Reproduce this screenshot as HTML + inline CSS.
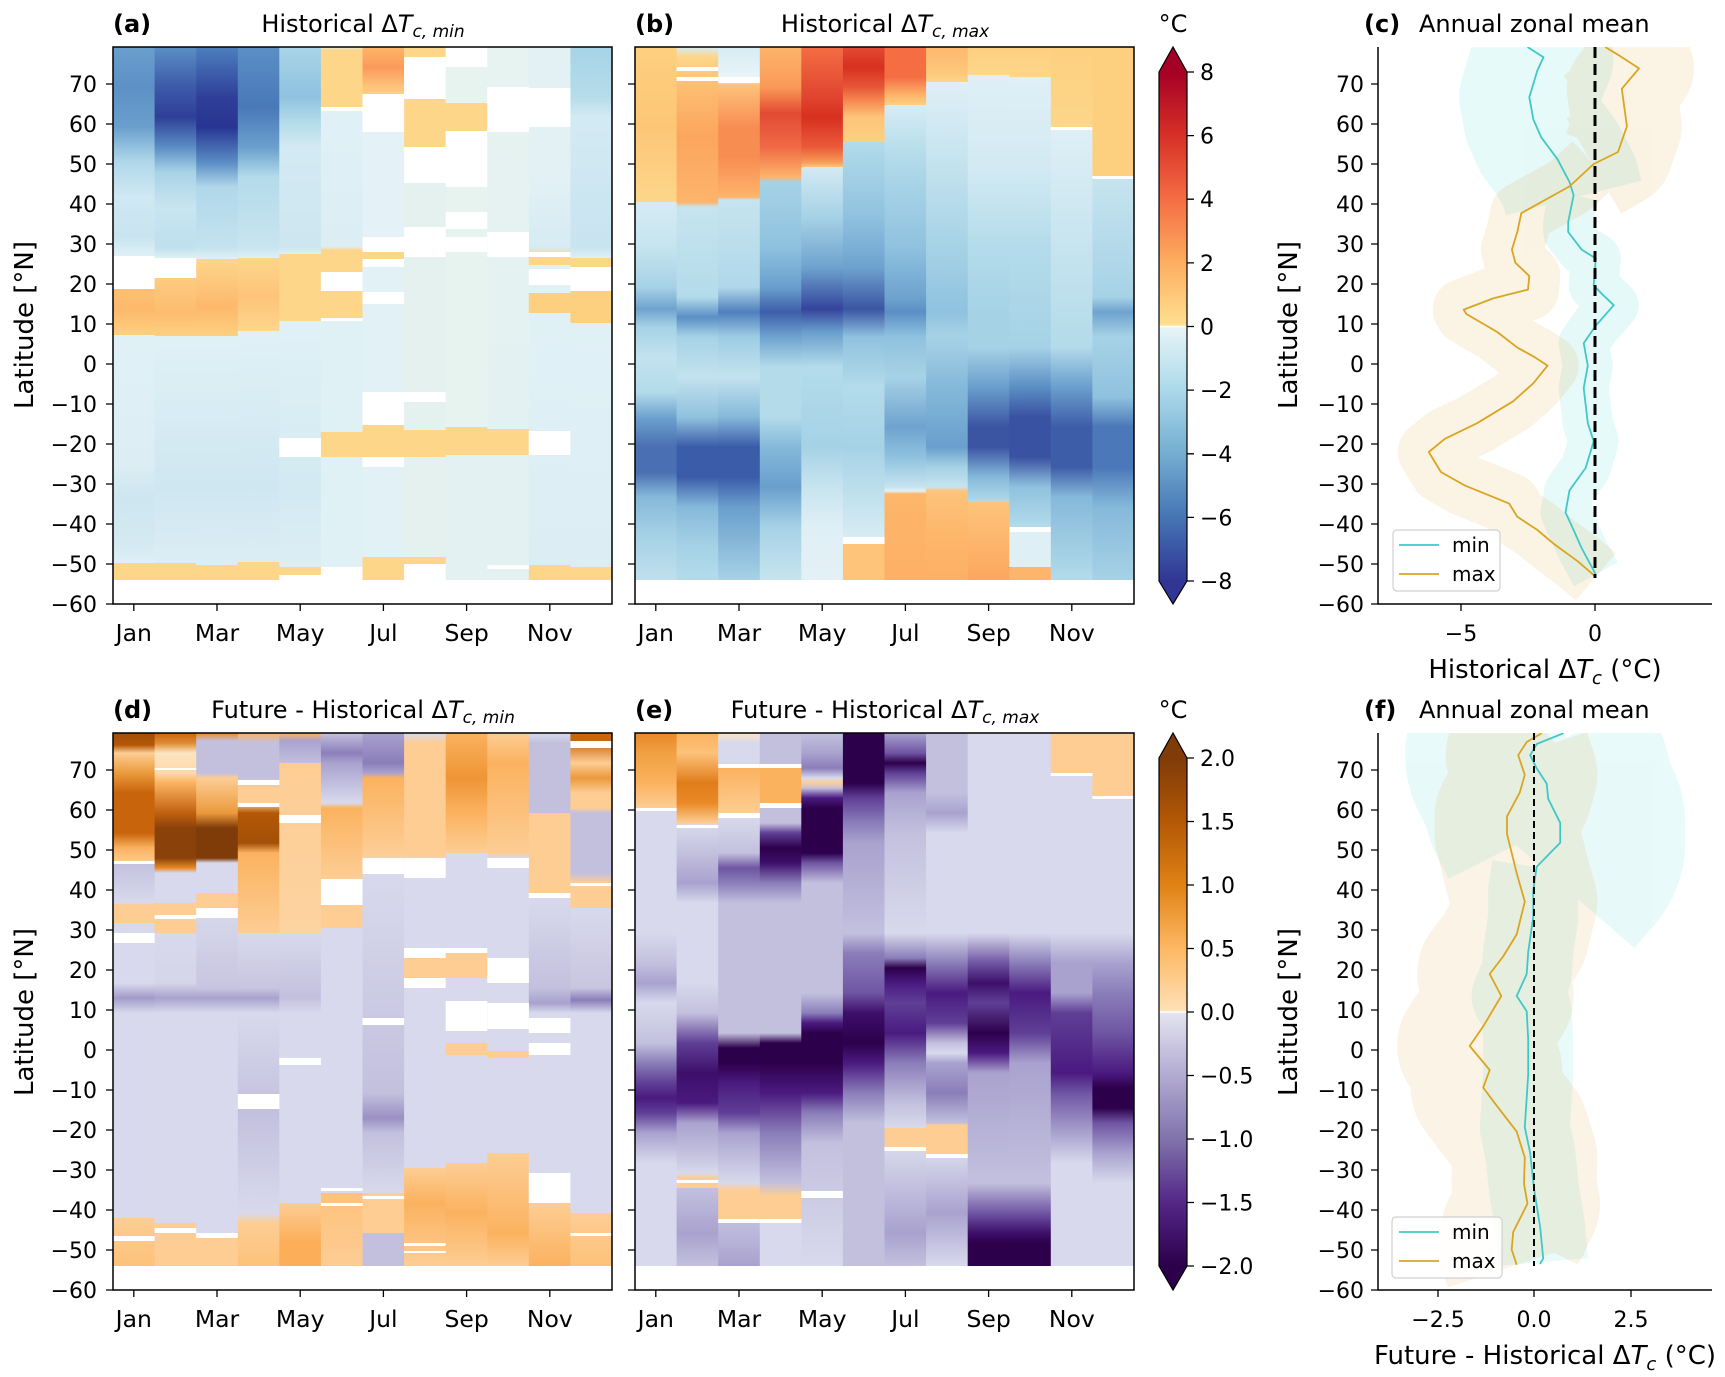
<!DOCTYPE html>
<html><head><meta charset="utf-8"><style>
html,body{margin:0;padding:0;background:#fff;}
svg{display:block;}
text{font-family:"DejaVu Sans","Liberation Sans",sans-serif;fill:#000;}
</style></head><body>
<svg width="1725" height="1377" viewBox="0 0 1725 1377" xmlns="http://www.w3.org/2000/svg">
<defs>
<clipPath id="clipc"><rect x="1378" y="47" width="334" height="557"/></clipPath>
<clipPath id="clipf"><rect x="1378" y="733" width="334" height="557"/></clipPath>
<!-- panel a -->
<linearGradient id="a1" gradientUnits="userSpaceOnUse" x1="0" y1="0" x2="0" y2="1000"><stop offset="0" stop-color="#6a9fcd"/><stop offset=".04" stop-color="#5d90c6"/><stop offset=".08" stop-color="#6a9fcd"/><stop offset=".115" stop-color="#b0d8ea"/><stop offset=".15" stop-color="#cfe8f2"/><stop offset=".19" stop-color="#c8e4f0"/><stop offset=".209" stop-color="#dff0f6"/><stop offset=".209" stop-color="#fdd07f"/><stop offset=".262" stop-color="#fdb86c"/><stop offset=".288" stop-color="#fdd07f"/><stop offset=".288" stop-color="#e0f1f6"/><stop offset=".42" stop-color="#dcedf4"/><stop offset=".45" stop-color="#cde6f0"/><stop offset=".50" stop-color="#d5eaf2"/><stop offset=".516" stop-color="#dff0f6"/><stop offset=".516" stop-color="#fdd68a"/><stop offset="1" stop-color="#fdd68a"/></linearGradient>
<linearGradient id="a2" gradientUnits="userSpaceOnUse" x1="0" y1="0" x2="0" y2="1000"><stop offset="0" stop-color="#5b8fc5"/><stop offset=".04" stop-color="#3d5aa8"/><stop offset=".07" stop-color="#2f3f98"/><stop offset=".10" stop-color="#5a8dc4"/><stop offset=".125" stop-color="#a8d3e7"/><stop offset=".16" stop-color="#c8e4f0"/><stop offset=".20" stop-color="#bfe0ee"/><stop offset=".211" stop-color="#dff0f6"/><stop offset=".211" stop-color="#fdd68a"/><stop offset=".265" stop-color="#fdbc6f"/><stop offset=".289" stop-color="#fdd07f"/><stop offset=".289" stop-color="#e0f1f6"/><stop offset=".44" stop-color="#cfe7f1"/><stop offset=".516" stop-color="#dcedf4"/><stop offset=".516" stop-color="#fdd68a"/></linearGradient>
<linearGradient id="a3" gradientUnits="userSpaceOnUse" x1="0" y1="0" x2="0" y2="1000"><stop offset="0" stop-color="#4d7fbf"/><stop offset=".05" stop-color="#2f3f98"/><stop offset=".08" stop-color="#283593"/><stop offset=".115" stop-color="#5a8dc4"/><stop offset=".14" stop-color="#b0d8ea"/><stop offset=".20" stop-color="#c3e2ef"/><stop offset=".212" stop-color="#dff0f6"/><stop offset=".212" stop-color="#fdd68a"/><stop offset=".26" stop-color="#fdb86c"/><stop offset=".289" stop-color="#fdd07f"/><stop offset=".289" stop-color="#e0f1f6"/><stop offset=".44" stop-color="#cfe7f1"/><stop offset=".518" stop-color="#dcedf4"/><stop offset=".518" stop-color="#fdd68a"/></linearGradient>
<linearGradient id="a4" gradientUnits="userSpaceOnUse" x1="0" y1="0" x2="0" y2="1000"><stop offset="0" stop-color="#5b8fc5"/><stop offset=".06" stop-color="#4a78b8"/><stop offset=".10" stop-color="#6a9fcd"/><stop offset=".13" stop-color="#b3dbea"/><stop offset=".20" stop-color="#c8e4f0"/><stop offset=".211" stop-color="#dff0f6"/><stop offset=".211" stop-color="#fdd68a"/><stop offset=".25" stop-color="#fdc47a"/><stop offset=".284" stop-color="#fdd68a"/><stop offset=".284" stop-color="#e0f1f6"/><stop offset=".44" stop-color="#cfe7f1"/><stop offset=".515" stop-color="#dcedf4"/><stop offset=".515" stop-color="#fdd68a"/></linearGradient>
<linearGradient id="a5" gradientUnits="userSpaceOnUse" x1="0" y1="0" x2="0" y2="1000"><stop offset="0" stop-color="#a9d4e8"/><stop offset=".05" stop-color="#8fc2df"/><stop offset=".075" stop-color="#b3dbea"/><stop offset=".10" stop-color="#d3eaf3"/><stop offset=".20" stop-color="#cde6f0"/><stop offset=".207" stop-color="#dff0f6"/><stop offset=".207" stop-color="#fdd68a"/><stop offset=".274" stop-color="#fdd68a"/><stop offset=".274" stop-color="#e0f1f6"/><stop offset=".44" stop-color="#d3eaf2"/><stop offset=".52" stop-color="#dcedf4"/><stop offset=".52" stop-color="#fdd68a"/><stop offset=".528" stop-color="#fdd68a"/><stop offset=".528" stop-color="#ffffff"/></linearGradient>
<linearGradient id="a6" gradientUnits="userSpaceOnUse" x1="0" y1="0" x2="0" y2="1000"><stop offset="0" stop-color="#e0f1f6"/><stop offset=".003" stop-color="#fdd68a"/><stop offset=".06" stop-color="#fdd68a"/><stop offset=".06" stop-color="#e0f1f6"/><stop offset=".2" stop-color="#dcedf4"/><stop offset=".203" stop-color="#fdd68a"/><stop offset=".271" stop-color="#fdd68a"/><stop offset=".271" stop-color="#e0f1f6"/><stop offset=".385" stop-color="#e0f1f6"/><stop offset=".385" stop-color="#fdd68a"/><stop offset=".41" stop-color="#fdd68a"/><stop offset=".41" stop-color="#e0f1f6"/><stop offset=".52" stop-color="#e0f1f6"/><stop offset=".52" stop-color="#ffffff"/></linearGradient>
<linearGradient id="a7" gradientUnits="userSpaceOnUse" x1="0" y1="0" x2="0" y2="1000"><stop offset="0" stop-color="#fdb66a"/><stop offset=".02" stop-color="#fb9a5a"/><stop offset=".04" stop-color="#fdc47a"/><stop offset=".047" stop-color="#fdd07f"/><stop offset=".047" stop-color="#e4f2f7"/><stop offset=".205" stop-color="#e4f2f7"/><stop offset=".205" stop-color="#fdd68a"/><stop offset=".212" stop-color="#fdd68a"/><stop offset=".212" stop-color="#e2f1f6"/><stop offset=".378" stop-color="#e2f1f6"/><stop offset=".378" stop-color="#fdd68a"/><stop offset=".41" stop-color="#fdd68a"/><stop offset=".41" stop-color="#e2f1f6"/><stop offset=".51" stop-color="#e2f1f6"/><stop offset=".51" stop-color="#fdd68a"/></linearGradient>
<linearGradient id="a8" gradientUnits="userSpaceOnUse" x1="0" y1="0" x2="0" y2="1000"><stop offset="0" stop-color="#fdd68a"/><stop offset=".01" stop-color="#fdd68a"/><stop offset=".01" stop-color="#e4f1ef"/><stop offset=".052" stop-color="#e4f1ef"/><stop offset=".052" stop-color="#fdd68a"/><stop offset=".10" stop-color="#fdd68a"/><stop offset=".10" stop-color="#e4f1ef"/><stop offset=".383" stop-color="#e4f1ef"/><stop offset=".383" stop-color="#fdd68a"/><stop offset=".41" stop-color="#fdd68a"/><stop offset=".41" stop-color="#e4f1ef"/><stop offset=".51" stop-color="#e4f1ef"/><stop offset=".51" stop-color="#fdd68a"/><stop offset=".517" stop-color="#fdd68a"/><stop offset=".517" stop-color="#ffffff"/></linearGradient>
<linearGradient id="a9" gradientUnits="userSpaceOnUse" x1="0" y1="0" x2="0" y2="1000"><stop offset="0" stop-color="#e6f3ef"/><stop offset=".056" stop-color="#e6f3ef"/><stop offset=".056" stop-color="#fdd68a"/><stop offset=".084" stop-color="#fdd68a"/><stop offset=".084" stop-color="#e6f3ef"/><stop offset=".38" stop-color="#e6f3ef"/><stop offset=".38" stop-color="#fdd68a"/><stop offset=".408" stop-color="#fdd68a"/><stop offset=".408" stop-color="#e3f1f2"/></linearGradient>
<linearGradient id="a10" gradientUnits="userSpaceOnUse" x1="0" y1="0" x2="0" y2="1000"><stop offset="0" stop-color="#e6f3f0"/><stop offset=".382" stop-color="#e3f1f2"/><stop offset=".382" stop-color="#fdd68a"/><stop offset=".408" stop-color="#fdd68a"/><stop offset=".408" stop-color="#e3f1f2"/></linearGradient>
<linearGradient id="a11" gradientUnits="userSpaceOnUse" x1="0" y1="0" x2="0" y2="1000"><stop offset="0" stop-color="#e3f1f5"/><stop offset=".127" stop-color="#e3f1f5"/><stop offset=".2" stop-color="#d6ebf3"/><stop offset=".21" stop-color="#fdd68a"/><stop offset=".218" stop-color="#fdd68a"/><stop offset=".218" stop-color="#e3f1f5"/><stop offset=".246" stop-color="#e3f1f5"/><stop offset=".246" stop-color="#fdd07f"/><stop offset=".266" stop-color="#fdd07f"/><stop offset=".266" stop-color="#e0f1f6"/><stop offset=".518" stop-color="#dcedf4"/><stop offset=".518" stop-color="#fdd68a"/></linearGradient>
<linearGradient id="a12" gradientUnits="userSpaceOnUse" x1="0" y1="0" x2="0" y2="1000"><stop offset="0" stop-color="#a6d4e6"/><stop offset=".05" stop-color="#b6dcea"/><stop offset=".07" stop-color="#d3eaf3"/><stop offset=".20" stop-color="#c8e4f0"/><stop offset=".211" stop-color="#dff0f6"/><stop offset=".211" stop-color="#fdd68a"/><stop offset=".22" stop-color="#fdd68a"/><stop offset=".22" stop-color="#ffffff"/><stop offset=".244" stop-color="#ffffff"/><stop offset=".244" stop-color="#fdd07f"/><stop offset=".276" stop-color="#fdd07f"/><stop offset=".276" stop-color="#e0f1f6"/><stop offset=".52" stop-color="#dcedf4"/><stop offset=".52" stop-color="#fdd68a"/></linearGradient>
<!-- panel b -->
<linearGradient id="b1" gradientUnits="userSpaceOnUse" x1="0" y1="0" x2="0" y2="1000"><stop offset="0" stop-color="#fdd07f"/><stop offset=".08" stop-color="#fdc676"/><stop offset=".155" stop-color="#fdd68a"/><stop offset=".155" stop-color="#d6ecf4"/><stop offset=".20" stop-color="#c6e4ef"/><stop offset=".24" stop-color="#a6d2e6"/><stop offset=".262" stop-color="#6fa3cf"/><stop offset=".28" stop-color="#a6d2e6"/><stop offset=".31" stop-color="#c3e2ef"/><stop offset=".345" stop-color="#b3dbea"/><stop offset=".372" stop-color="#6a9fcd"/><stop offset=".40" stop-color="#4a6fb2"/><stop offset=".425" stop-color="#4a6fb2"/><stop offset=".45" stop-color="#85b9da"/><stop offset=".49" stop-color="#a6d2e6"/><stop offset=".533" stop-color="#c0dfed"/></linearGradient>
<linearGradient id="b2" gradientUnits="userSpaceOnUse" x1="0" y1="0" x2="0" y2="1000"><stop offset="0" stop-color="#d6ecf4"/><stop offset=".01" stop-color="#fdd68a"/><stop offset=".04" stop-color="#fdbd72"/><stop offset=".09" stop-color="#fca55e"/><stop offset=".155" stop-color="#fdb46b"/><stop offset=".16" stop-color="#c6e4ef"/><stop offset=".25" stop-color="#b3dbea"/><stop offset=".27" stop-color="#5b8fc5"/><stop offset=".29" stop-color="#a6d2e6"/><stop offset=".33" stop-color="#c3e2ef"/><stop offset=".37" stop-color="#90c2de"/><stop offset=".40" stop-color="#3b5ca9"/><stop offset=".43" stop-color="#3b5ca9"/><stop offset=".46" stop-color="#85b9da"/><stop offset=".50" stop-color="#a6d2e6"/><stop offset=".533" stop-color="#b3dbea"/></linearGradient>
<linearGradient id="b3" gradientUnits="userSpaceOnUse" x1="0" y1="0" x2="0" y2="1000"><stop offset="0" stop-color="#d6ecf4"/><stop offset=".03" stop-color="#e8f4f8"/><stop offset=".038" stop-color="#fdc27a"/><stop offset=".08" stop-color="#f88d52"/><stop offset=".11" stop-color="#f88d52"/><stop offset=".15" stop-color="#fdb46b"/><stop offset=".153" stop-color="#c6e4ef"/><stop offset=".24" stop-color="#b0d8ea"/><stop offset=".265" stop-color="#4f7fbd"/><stop offset=".29" stop-color="#9dcde3"/><stop offset=".33" stop-color="#c3e2ef"/><stop offset=".37" stop-color="#85b9da"/><stop offset=".40" stop-color="#3b5ca9"/><stop offset=".43" stop-color="#3b5ca9"/><stop offset=".46" stop-color="#6a9fcd"/><stop offset=".533" stop-color="#a6d2e6"/></linearGradient>
<linearGradient id="b4" gradientUnits="userSpaceOnUse" x1="0" y1="0" x2="0" y2="1000"><stop offset="0" stop-color="#fdb46b"/><stop offset=".04" stop-color="#fa9a58"/><stop offset=".066" stop-color="#e34a33"/><stop offset=".10" stop-color="#ef6a45"/><stop offset=".13" stop-color="#fdb46b"/><stop offset=".135" stop-color="#a6d2e6"/><stop offset=".20" stop-color="#8fc2df"/><stop offset=".24" stop-color="#6a9fcd"/><stop offset=".265" stop-color="#3e5ea9"/><stop offset=".29" stop-color="#6fa3cf"/><stop offset=".32" stop-color="#b3dbea"/><stop offset=".37" stop-color="#b3dbea"/><stop offset=".40" stop-color="#85b9da"/><stop offset=".44" stop-color="#6a9fcd"/><stop offset=".48" stop-color="#a6d2e6"/><stop offset=".533" stop-color="#c6e4ef"/></linearGradient>
<linearGradient id="b5" gradientUnits="userSpaceOnUse" x1="0" y1="0" x2="0" y2="1000"><stop offset="0" stop-color="#f46d43"/><stop offset=".05" stop-color="#e04530"/><stop offset=".07" stop-color="#d7301f"/><stop offset=".10" stop-color="#ea5a3a"/><stop offset=".115" stop-color="#f79a55"/><stop offset=".12" stop-color="#fdc47a"/><stop offset=".12" stop-color="#d3eaf3"/><stop offset=".17" stop-color="#a6d2e6"/><stop offset=".22" stop-color="#6fa3cf"/><stop offset=".262" stop-color="#35449c"/><stop offset=".285" stop-color="#6a9fcd"/><stop offset=".32" stop-color="#b3dbea"/><stop offset=".40" stop-color="#a6d2e6"/><stop offset=".44" stop-color="#c6e4ef"/><stop offset=".48" stop-color="#dfeff6"/><stop offset=".533" stop-color="#e3f1f5"/></linearGradient>
<linearGradient id="b6" gradientUnits="userSpaceOnUse" x1="0" y1="0" x2="0" y2="1000"><stop offset="0" stop-color="#e34a33"/><stop offset=".02" stop-color="#d7301f"/><stop offset=".04" stop-color="#e65637"/><stop offset=".055" stop-color="#f88d52"/><stop offset=".07" stop-color="#fdc47a"/><stop offset=".095" stop-color="#fdd07f"/><stop offset=".095" stop-color="#b3dbea"/><stop offset=".17" stop-color="#8fc2df"/><stop offset=".22" stop-color="#6fa3cf"/><stop offset=".262" stop-color="#3b55a3"/><stop offset=".29" stop-color="#8fc2df"/><stop offset=".34" stop-color="#b3dbea"/><stop offset=".40" stop-color="#a6d2e6"/><stop offset=".46" stop-color="#c6e4ef"/><stop offset=".49" stop-color="#d6ecf4"/><stop offset=".49" stop-color="#ffffff"/><stop offset=".497" stop-color="#ffffff"/><stop offset=".497" stop-color="#fdc47a"/><stop offset=".533" stop-color="#fdc47a"/></linearGradient>
<linearGradient id="b7" gradientUnits="userSpaceOnUse" x1="0" y1="0" x2="0" y2="1000"><stop offset="0" stop-color="#f46d43"/><stop offset=".03" stop-color="#f46d43"/><stop offset=".048" stop-color="#fdb46b"/><stop offset=".058" stop-color="#fdd07f"/><stop offset=".058" stop-color="#d6ecf4"/><stop offset=".11" stop-color="#b3dbea"/><stop offset=".20" stop-color="#8fc2df"/><stop offset=".25" stop-color="#6fa3cf"/><stop offset=".265" stop-color="#5b8fc5"/><stop offset=".29" stop-color="#8fc2df"/><stop offset=".33" stop-color="#a6d2e6"/><stop offset=".38" stop-color="#6fa3cf"/><stop offset=".41" stop-color="#8fc2df"/><stop offset=".44" stop-color="#c6e4ef"/><stop offset=".444" stop-color="#e3f1f5"/><stop offset=".447" stop-color="#fdb66a"/><stop offset=".533" stop-color="#fdb066"/></linearGradient>
<linearGradient id="b8" gradientUnits="userSpaceOnUse" x1="0" y1="0" x2="0" y2="1000"><stop offset="0" stop-color="#fdb86c"/><stop offset=".025" stop-color="#fdc77a"/><stop offset=".035" stop-color="#fdd68a"/><stop offset=".035" stop-color="#dfeff6"/><stop offset=".11" stop-color="#c6e4ef"/><stop offset=".20" stop-color="#a6d2e6"/><stop offset=".265" stop-color="#8fc2df"/><stop offset=".29" stop-color="#a6d2e6"/><stop offset=".34" stop-color="#85b9da"/><stop offset=".40" stop-color="#6a9fcd"/><stop offset=".42" stop-color="#a6d2e6"/><stop offset=".44" stop-color="#c6e4ef"/><stop offset=".444" stop-color="#fdc47a"/><stop offset=".49" stop-color="#fdb66a"/><stop offset=".533" stop-color="#fdb066"/></linearGradient>
<linearGradient id="b9" gradientUnits="userSpaceOnUse" x1="0" y1="0" x2="0" y2="1000"><stop offset="0" stop-color="#fdd07f"/><stop offset=".028" stop-color="#fdd68a"/><stop offset=".028" stop-color="#dfeff6"/><stop offset=".12" stop-color="#d3eaf3"/><stop offset=".20" stop-color="#b3dbea"/><stop offset=".265" stop-color="#a6d2e6"/><stop offset=".30" stop-color="#a6d2e6"/><stop offset=".34" stop-color="#6a9fcd"/><stop offset=".38" stop-color="#3b55a3"/><stop offset=".40" stop-color="#3b55a3"/><stop offset=".43" stop-color="#85b9da"/><stop offset=".455" stop-color="#b3dbea"/><stop offset=".455" stop-color="#fdc47a"/><stop offset=".50" stop-color="#fdb36b"/><stop offset=".533" stop-color="#fda65e"/></linearGradient>
<linearGradient id="b10" gradientUnits="userSpaceOnUse" x1="0" y1="0" x2="0" y2="1000"><stop offset="0" stop-color="#fdd07f"/><stop offset=".03" stop-color="#fdd68a"/><stop offset=".03" stop-color="#dfeff6"/><stop offset=".12" stop-color="#d3eaf3"/><stop offset=".20" stop-color="#b3dbea"/><stop offset=".30" stop-color="#a6d2e6"/><stop offset=".34" stop-color="#5b8fc5"/><stop offset=".37" stop-color="#3a52a2"/><stop offset=".41" stop-color="#3a52a2"/><stop offset=".44" stop-color="#8fc2df"/><stop offset=".48" stop-color="#b3dbea"/><stop offset=".48" stop-color="#ffffff"/><stop offset=".485" stop-color="#ffffff"/><stop offset=".485" stop-color="#dfeff6"/><stop offset=".52" stop-color="#dfeff6"/><stop offset=".52" stop-color="#fdb46b"/><stop offset=".533" stop-color="#fdb46b"/></linearGradient>
<linearGradient id="b11" gradientUnits="userSpaceOnUse" x1="0" y1="0" x2="0" y2="1000"><stop offset="0" stop-color="#fdd07f"/><stop offset=".08" stop-color="#fdd68a"/><stop offset=".08" stop-color="#ffffff"/><stop offset=".083" stop-color="#ffffff"/><stop offset=".083" stop-color="#dfeff6"/><stop offset=".20" stop-color="#c6e4ef"/><stop offset=".30" stop-color="#b3dbea"/><stop offset=".34" stop-color="#6a9fcd"/><stop offset=".38" stop-color="#3e5da8"/><stop offset=".42" stop-color="#3e5da8"/><stop offset=".45" stop-color="#85b9da"/><stop offset=".533" stop-color="#b3dbea"/></linearGradient>
<linearGradient id="b12" gradientUnits="userSpaceOnUse" x1="0" y1="0" x2="0" y2="1000"><stop offset="0" stop-color="#fdd07f"/><stop offset=".129" stop-color="#fdd07f"/><stop offset=".129" stop-color="#ffffff"/><stop offset=".132" stop-color="#ffffff"/><stop offset=".132" stop-color="#c6e4ef"/><stop offset=".25" stop-color="#a6d2e6"/><stop offset=".265" stop-color="#6fa3cf"/><stop offset=".29" stop-color="#a6d2e6"/><stop offset=".35" stop-color="#8fc2df"/><stop offset=".38" stop-color="#4a78b8"/><stop offset=".42" stop-color="#4a78b8"/><stop offset=".46" stop-color="#85b9da"/><stop offset=".533" stop-color="#a6d2e6"/></linearGradient>
<!-- panel d -->
<linearGradient id="d1" gradientUnits="userSpaceOnUse" x1="0" y1="0" x2="0" y2="1000"><stop offset="0" stop-color="#a04d08"/><stop offset=".012" stop-color="#b35806"/><stop offset=".02" stop-color="#fdcd94"/><stop offset=".04" stop-color="#eb9a3c"/><stop offset=".06" stop-color="#c8640c"/><stop offset=".10" stop-color="#c8640c"/><stop offset=".115" stop-color="#fbb25f"/><stop offset=".13" stop-color="#fdcd94"/><stop offset=".13" stop-color="#c3c0de"/><stop offset=".17" stop-color="#d8d9ec"/><stop offset=".172" stop-color="#fdcd94"/><stop offset=".19" stop-color="#fdcd94"/><stop offset=".19" stop-color="#d8d9ec"/><stop offset=".25" stop-color="#d8d9ec"/><stop offset=".265" stop-color="#a39bca"/><stop offset=".28" stop-color="#d8d9ec"/><stop offset=".485" stop-color="#d8d9ec"/><stop offset=".485" stop-color="#fdcd94"/><stop offset=".533" stop-color="#fdc27a"/></linearGradient>
<linearGradient id="d2" gradientUnits="userSpaceOnUse" x1="0" y1="0" x2="0" y2="1000"><stop offset="0" stop-color="#c9660d"/><stop offset=".01" stop-color="#e08a30"/><stop offset=".02" stop-color="#fee4c2"/><stop offset=".04" stop-color="#fdd9aa"/><stop offset=".05" stop-color="#fbb25f"/><stop offset=".08" stop-color="#c06010"/><stop offset=".095" stop-color="#8a420a"/><stop offset=".125" stop-color="#8a420a"/><stop offset=".135" stop-color="#e98a26"/><stop offset=".14" stop-color="#d8d9ec"/><stop offset=".17" stop-color="#d8d9ec"/><stop offset=".17" stop-color="#fdcd94"/><stop offset=".20" stop-color="#fdcd94"/><stop offset=".20" stop-color="#d8d9ec"/><stop offset=".25" stop-color="#d5d5ea"/><stop offset=".265" stop-color="#a9a2cf"/><stop offset=".28" stop-color="#d8d9ec"/><stop offset=".49" stop-color="#d8d9ec"/><stop offset=".49" stop-color="#fdcd94"/><stop offset=".533" stop-color="#fdcd94"/></linearGradient>
<linearGradient id="d3" gradientUnits="userSpaceOnUse" x1="0" y1="0" x2="0" y2="1000"><stop offset="0" stop-color="#e98a26"/><stop offset=".008" stop-color="#c3c0de"/><stop offset=".04" stop-color="#c3c0de"/><stop offset=".045" stop-color="#fdcd94"/><stop offset=".08" stop-color="#eb9a3c"/><stop offset=".095" stop-color="#7f3b08"/><stop offset=".125" stop-color="#7f3b08"/><stop offset=".13" stop-color="#d8d9ec"/><stop offset=".16" stop-color="#d8d9ec"/><stop offset=".16" stop-color="#fdcd94"/><stop offset=".175" stop-color="#fdcd94"/><stop offset=".175" stop-color="#d8d9ec"/><stop offset=".255" stop-color="#c8c5e0"/><stop offset=".265" stop-color="#a9a2cf"/><stop offset=".28" stop-color="#d8d9ec"/><stop offset=".50" stop-color="#d8d9ec"/><stop offset=".50" stop-color="#fdcd94"/><stop offset=".533" stop-color="#fdcd94"/></linearGradient>
<linearGradient id="d4" gradientUnits="userSpaceOnUse" x1="0" y1="0" x2="0" y2="1000"><stop offset="0" stop-color="#fbb25f"/><stop offset=".01" stop-color="#c3c0de"/><stop offset=".045" stop-color="#c3c0de"/><stop offset=".055" stop-color="#fdcd94"/><stop offset=".07" stop-color="#fdcd94"/><stop offset=".08" stop-color="#b35806"/><stop offset=".11" stop-color="#a45008"/><stop offset=".12" stop-color="#fbb25f"/><stop offset=".20" stop-color="#fdcd94"/><stop offset=".20" stop-color="#d8d9ec"/><stop offset=".255" stop-color="#c8c5e0"/><stop offset=".265" stop-color="#a9a2cf"/><stop offset=".28" stop-color="#d8d9ec"/><stop offset=".38" stop-color="#c3c0de"/><stop offset=".48" stop-color="#d8d9ec"/><stop offset=".49" stop-color="#fdcd94"/><stop offset=".533" stop-color="#fdc27a"/></linearGradient>
<linearGradient id="d5" gradientUnits="userSpaceOnUse" x1="0" y1="0" x2="0" y2="1000"><stop offset="0" stop-color="#fbb25f"/><stop offset=".008" stop-color="#a9a2cf"/><stop offset=".03" stop-color="#c3c0de"/><stop offset=".03" stop-color="#fdcd94"/><stop offset=".2" stop-color="#fdd3a0"/><stop offset=".2" stop-color="#d8d9ec"/><stop offset=".265" stop-color="#c3c0de"/><stop offset=".28" stop-color="#d8d9ec"/><stop offset=".47" stop-color="#d8d9ec"/><stop offset=".47" stop-color="#fdcd94"/><stop offset=".51" stop-color="#fcae58"/><stop offset=".533" stop-color="#fcae58"/></linearGradient>
<linearGradient id="d6" gradientUnits="userSpaceOnUse" x1="0" y1="0" x2="0" y2="1000"><stop offset="0" stop-color="#c3c0de"/><stop offset=".02" stop-color="#8b7fba"/><stop offset=".03" stop-color="#a9a2cf"/><stop offset=".07" stop-color="#d8d9ec"/><stop offset=".075" stop-color="#fbb25f"/><stop offset=".145" stop-color="#fdcd94"/><stop offset=".195" stop-color="#fdcd94"/><stop offset=".195" stop-color="#d8d9ec"/><stop offset=".46" stop-color="#d8d9ec"/><stop offset=".46" stop-color="#fdc27a"/><stop offset=".533" stop-color="#fdcd94"/></linearGradient>
<linearGradient id="d7" gradientUnits="userSpaceOnUse" x1="0" y1="0" x2="0" y2="1000"><stop offset="0" stop-color="#a9a2cf"/><stop offset=".03" stop-color="#8a7eb9"/><stop offset=".04" stop-color="#a9a2cf"/><stop offset=".045" stop-color="#fbb25f"/><stop offset=".12" stop-color="#fdcd94"/><stop offset=".14" stop-color="#d8d9ec"/><stop offset=".36" stop-color="#c3c0de"/><stop offset=".385" stop-color="#9a90c4"/><stop offset=".40" stop-color="#c3c0de"/><stop offset=".46" stop-color="#d8d9ec"/><stop offset=".46" stop-color="#fdcd94"/><stop offset=".50" stop-color="#fdcd94"/><stop offset=".50" stop-color="#c3c0de"/><stop offset=".533" stop-color="#c3c0de"/></linearGradient>
<linearGradient id="d8" gradientUnits="userSpaceOnUse" x1="0" y1="0" x2="0" y2="1000"><stop offset="0" stop-color="#d8d9ec"/><stop offset=".01" stop-color="#fdcd94"/><stop offset=".12" stop-color="#fdcd94"/><stop offset=".145" stop-color="#d8d9ec"/><stop offset=".215" stop-color="#d8d9ec"/><stop offset=".225" stop-color="#fdcd94"/><stop offset=".245" stop-color="#fdcd94"/><stop offset=".255" stop-color="#d8d9ec"/><stop offset=".435" stop-color="#d8d9ec"/><stop offset=".435" stop-color="#fdcd94"/><stop offset=".47" stop-color="#fbb25f"/><stop offset=".533" stop-color="#fdcd94"/></linearGradient>
<linearGradient id="d9" gradientUnits="userSpaceOnUse" x1="0" y1="0" x2="0" y2="1000"><stop offset="0" stop-color="#fbb25f"/><stop offset=".045" stop-color="#ee9535"/><stop offset=".08" stop-color="#fbb25f"/><stop offset=".12" stop-color="#fdcd94"/><stop offset=".12" stop-color="#d8d9ec"/><stop offset=".215" stop-color="#d8d9ec"/><stop offset=".22" stop-color="#fdcd94"/><stop offset=".245" stop-color="#fdcd94"/><stop offset=".245" stop-color="#d8d9ec"/><stop offset=".31" stop-color="#d8d9ec"/><stop offset=".31" stop-color="#fdcd94"/><stop offset=".322" stop-color="#fdcd94"/><stop offset=".322" stop-color="#d8d9ec"/><stop offset=".43" stop-color="#d8d9ec"/><stop offset=".43" stop-color="#fdcd94"/><stop offset=".48" stop-color="#fbb25f"/><stop offset=".533" stop-color="#fdcd94"/></linearGradient>
<linearGradient id="d10" gradientUnits="userSpaceOnUse" x1="0" y1="0" x2="0" y2="1000"><stop offset="0" stop-color="#fdcd94"/><stop offset=".03" stop-color="#fbb25f"/><stop offset=".12" stop-color="#fdcd94"/><stop offset=".125" stop-color="#d8d9ec"/><stop offset=".318" stop-color="#d8d9ec"/><stop offset=".318" stop-color="#fdcd94"/><stop offset=".325" stop-color="#fdcd94"/><stop offset=".325" stop-color="#d8d9ec"/><stop offset=".42" stop-color="#d8d9ec"/><stop offset=".42" stop-color="#fdcd94"/><stop offset=".50" stop-color="#fbb25f"/><stop offset=".533" stop-color="#fdcd94"/></linearGradient>
<linearGradient id="d11" gradientUnits="userSpaceOnUse" x1="0" y1="0" x2="0" y2="1000"><stop offset="0" stop-color="#d8d9ec"/><stop offset=".01" stop-color="#c3c0de"/><stop offset=".08" stop-color="#c3c0de"/><stop offset=".08" stop-color="#fdcd94"/><stop offset=".16" stop-color="#fdcd94"/><stop offset=".165" stop-color="#d8d9ec"/><stop offset=".255" stop-color="#c3c0de"/><stop offset=".27" stop-color="#a9a2cf"/><stop offset=".28" stop-color="#d8d9ec"/><stop offset=".47" stop-color="#d8d9ec"/><stop offset=".47" stop-color="#fdcd94"/><stop offset=".533" stop-color="#fbb25f"/></linearGradient>
<linearGradient id="d12" gradientUnits="userSpaceOnUse" x1="0" y1="0" x2="0" y2="1000"><stop offset="0" stop-color="#c9660d"/><stop offset=".008" stop-color="#c9660d"/><stop offset=".03" stop-color="#fdcd94"/><stop offset=".045" stop-color="#eb9a3c"/><stop offset=".06" stop-color="#fdcd94"/><stop offset=".075" stop-color="#fdcd94"/><stop offset=".08" stop-color="#c3c0de"/><stop offset=".14" stop-color="#c3c0de"/><stop offset=".15" stop-color="#fdcd94"/><stop offset=".175" stop-color="#fdcd94"/><stop offset=".175" stop-color="#d8d9ec"/><stop offset=".255" stop-color="#c8c5e0"/><stop offset=".267" stop-color="#8a7eb9"/><stop offset=".28" stop-color="#d8d9ec"/><stop offset=".48" stop-color="#d8d9ec"/><stop offset=".48" stop-color="#fdcd94"/><stop offset=".533" stop-color="#fdc27a"/></linearGradient>
<!-- panel e -->
<linearGradient id="e1" gradientUnits="userSpaceOnUse" x1="0" y1="0" x2="0" y2="1000"><stop offset="0" stop-color="#e9882a"/><stop offset=".02" stop-color="#f0a040"/><stop offset=".05" stop-color="#fbb25f"/><stop offset=".075" stop-color="#fdcd94"/><stop offset=".075" stop-color="#d8d9ec"/><stop offset=".20" stop-color="#d8d9ec"/><stop offset=".23" stop-color="#c3c0de"/><stop offset=".25" stop-color="#a9a2cf"/><stop offset=".27" stop-color="#d8d9ec"/><stop offset=".31" stop-color="#c3c0de"/><stop offset=".33" stop-color="#8a7eb9"/><stop offset=".35" stop-color="#5f3f96"/><stop offset=".365" stop-color="#4a1a80"/><stop offset=".38" stop-color="#5f3f96"/><stop offset=".40" stop-color="#a9a2cf"/><stop offset=".43" stop-color="#d8d9ec"/><stop offset=".533" stop-color="#d8d9ec"/></linearGradient>
<linearGradient id="e2" gradientUnits="userSpaceOnUse" x1="0" y1="0" x2="0" y2="1000"><stop offset="0" stop-color="#fbb25f"/><stop offset=".02" stop-color="#fdc27a"/><stop offset=".05" stop-color="#e07d1a"/><stop offset=".07" stop-color="#e98a26"/><stop offset=".09" stop-color="#fdcd94"/><stop offset=".092" stop-color="#d8d9ec"/><stop offset=".12" stop-color="#c3c0de"/><stop offset=".15" stop-color="#a9a2cf"/><stop offset=".17" stop-color="#d8d9ec"/><stop offset=".25" stop-color="#d8d9ec"/><stop offset=".28" stop-color="#c3c0de"/><stop offset=".31" stop-color="#5f3f96"/><stop offset=".34" stop-color="#3d0f6a"/><stop offset=".37" stop-color="#4a1a80"/><stop offset=".39" stop-color="#a9a2cf"/><stop offset=".42" stop-color="#c3c0de"/><stop offset=".44" stop-color="#d8d9ec"/><stop offset=".445" stop-color="#fdcd94"/><stop offset=".455" stop-color="#fdcd94"/><stop offset=".455" stop-color="#c3c0de"/><stop offset=".50" stop-color="#a9a2cf"/><stop offset=".533" stop-color="#c3c0de"/></linearGradient>
<linearGradient id="e3" gradientUnits="userSpaceOnUse" x1="0" y1="0" x2="0" y2="1000"><stop offset="0" stop-color="#fee4c2"/><stop offset=".01" stop-color="#d8d9ec"/><stop offset=".03" stop-color="#d8d9ec"/><stop offset=".035" stop-color="#fbb25f"/><stop offset=".08" stop-color="#fdcd94"/><stop offset=".085" stop-color="#d8d9ec"/><stop offset=".12" stop-color="#c3c0de"/><stop offset=".135" stop-color="#6f55a3"/><stop offset=".15" stop-color="#8a7eb9"/><stop offset=".17" stop-color="#c3c0de"/><stop offset=".30" stop-color="#c3c0de"/><stop offset=".315" stop-color="#2d004b"/><stop offset=".33" stop-color="#2d004b"/><stop offset=".35" stop-color="#4a1a80"/><stop offset=".38" stop-color="#5f3f96"/><stop offset=".40" stop-color="#a9a2cf"/><stop offset=".45" stop-color="#d8d9ec"/><stop offset=".457" stop-color="#fdcd94"/><stop offset=".486" stop-color="#fdcd94"/><stop offset=".486" stop-color="#c3c0de"/><stop offset=".533" stop-color="#a9a2cf"/></linearGradient>
<linearGradient id="e4" gradientUnits="userSpaceOnUse" x1="0" y1="0" x2="0" y2="1000"><stop offset="0" stop-color="#c3c0de"/><stop offset=".03" stop-color="#c3c0de"/><stop offset=".035" stop-color="#fbb25f"/><stop offset=".07" stop-color="#fbb25f"/><stop offset=".075" stop-color="#c3c0de"/><stop offset=".09" stop-color="#c3c0de"/><stop offset=".10" stop-color="#5f3f96"/><stop offset=".115" stop-color="#2d004b"/><stop offset=".13" stop-color="#3d0f6a"/><stop offset=".15" stop-color="#8a7eb9"/><stop offset=".17" stop-color="#c3c0de"/><stop offset=".30" stop-color="#c3c0de"/><stop offset=".31" stop-color="#2d004b"/><stop offset=".33" stop-color="#2d004b"/><stop offset=".36" stop-color="#4a1a80"/><stop offset=".40" stop-color="#8a7eb9"/><stop offset=".45" stop-color="#c3c0de"/><stop offset=".463" stop-color="#fdcd94"/><stop offset=".488" stop-color="#fdcd94"/><stop offset=".488" stop-color="#d8d9ec"/><stop offset=".533" stop-color="#d8d9ec"/></linearGradient>
<linearGradient id="e5" gradientUnits="userSpaceOnUse" x1="0" y1="0" x2="0" y2="1000"><stop offset="0" stop-color="#c3c0de"/><stop offset=".02" stop-color="#a9a2cf"/><stop offset=".035" stop-color="#8a7eb9"/><stop offset=".045" stop-color="#d8d9ec"/><stop offset=".05" stop-color="#fdcd94"/><stop offset=".055" stop-color="#c3c0de"/><stop offset=".065" stop-color="#4a1a80"/><stop offset=".075" stop-color="#2d004b"/><stop offset=".12" stop-color="#2d004b"/><stop offset=".13" stop-color="#6f55a3"/><stop offset=".15" stop-color="#c3c0de"/><stop offset=".26" stop-color="#c3c0de"/><stop offset=".28" stop-color="#8a7eb9"/><stop offset=".29" stop-color="#4a1a80"/><stop offset=".30" stop-color="#2d004b"/><stop offset=".33" stop-color="#2d004b"/><stop offset=".36" stop-color="#4a1a80"/><stop offset=".38" stop-color="#8a7eb9"/><stop offset=".41" stop-color="#c3c0de"/><stop offset=".533" stop-color="#d8d9ec"/></linearGradient>
<linearGradient id="e6" gradientUnits="userSpaceOnUse" x1="0" y1="0" x2="0" y2="1000"><stop offset="0" stop-color="#2d004b"/><stop offset=".05" stop-color="#2d004b"/><stop offset=".065" stop-color="#5f3f96"/><stop offset=".09" stop-color="#8a7eb9"/><stop offset=".11" stop-color="#a9a2cf"/><stop offset=".20" stop-color="#c3c0de"/><stop offset=".22" stop-color="#8a7eb9"/><stop offset=".26" stop-color="#6f55a3"/><stop offset=".28" stop-color="#3d0f6a"/><stop offset=".31" stop-color="#2d004b"/><stop offset=".33" stop-color="#4a1a80"/><stop offset=".36" stop-color="#8a7eb9"/><stop offset=".39" stop-color="#c3c0de"/><stop offset=".533" stop-color="#c3c0de"/></linearGradient>
<linearGradient id="e7" gradientUnits="userSpaceOnUse" x1="0" y1="0" x2="0" y2="1000"><stop offset="0" stop-color="#a9a2cf"/><stop offset=".02" stop-color="#6f55a3"/><stop offset=".03" stop-color="#2d004b"/><stop offset=".04" stop-color="#5f3f96"/><stop offset=".06" stop-color="#a9a2cf"/><stop offset=".10" stop-color="#c3c0de"/><stop offset=".20" stop-color="#d8d9ec"/><stop offset=".225" stop-color="#8a7eb9"/><stop offset=".235" stop-color="#2d004b"/><stop offset=".25" stop-color="#4a1a80"/><stop offset=".27" stop-color="#5f3f96"/><stop offset=".30" stop-color="#4a1a80"/><stop offset=".33" stop-color="#8a7eb9"/><stop offset=".37" stop-color="#c3c0de"/><stop offset=".395" stop-color="#d8d9ec"/><stop offset=".395" stop-color="#fdcd94"/><stop offset=".414" stop-color="#fdcd94"/><stop offset=".414" stop-color="#d8d9ec"/><stop offset=".50" stop-color="#a9a2cf"/><stop offset=".533" stop-color="#c3c0de"/></linearGradient>
<linearGradient id="e8" gradientUnits="userSpaceOnUse" x1="0" y1="0" x2="0" y2="1000"><stop offset="0" stop-color="#c3c0de"/><stop offset=".06" stop-color="#c3c0de"/><stop offset=".08" stop-color="#a9a2cf"/><stop offset=".10" stop-color="#d8d9ec"/><stop offset=".20" stop-color="#d8d9ec"/><stop offset=".23" stop-color="#8a7eb9"/><stop offset=".26" stop-color="#4a1a80"/><stop offset=".29" stop-color="#5f3f96"/><stop offset=".31" stop-color="#c3c0de"/><stop offset=".32" stop-color="#d8d9ec"/><stop offset=".33" stop-color="#a9a2cf"/><stop offset=".36" stop-color="#8a7eb9"/><stop offset=".39" stop-color="#c3c0de"/><stop offset=".392" stop-color="#fdcd94"/><stop offset=".421" stop-color="#fdcd94"/><stop offset=".421" stop-color="#d8d9ec"/><stop offset=".48" stop-color="#a9a2cf"/><stop offset=".533" stop-color="#d8d9ec"/></linearGradient>
<linearGradient id="e9" gradientUnits="userSpaceOnUse" x1="0" y1="0" x2="0" y2="1000"><stop offset="0" stop-color="#d8d9ec"/><stop offset=".20" stop-color="#d8d9ec"/><stop offset=".23" stop-color="#6f55a3"/><stop offset=".25" stop-color="#3d0f6a"/><stop offset=".27" stop-color="#5f3f96"/><stop offset=".30" stop-color="#2d004b"/><stop offset=".32" stop-color="#4a1a80"/><stop offset=".34" stop-color="#a9a2cf"/><stop offset=".45" stop-color="#c3c0de"/><stop offset=".48" stop-color="#6f55a3"/><stop offset=".50" stop-color="#3d0f6a"/><stop offset=".51" stop-color="#2d004b"/><stop offset=".533" stop-color="#2d004b"/></linearGradient>
<linearGradient id="e10" gradientUnits="userSpaceOnUse" x1="0" y1="0" x2="0" y2="1000"><stop offset="0" stop-color="#d8d9ec"/><stop offset=".20" stop-color="#d8d9ec"/><stop offset=".23" stop-color="#8a7eb9"/><stop offset=".26" stop-color="#4a1a80"/><stop offset=".30" stop-color="#5f3f96"/><stop offset=".33" stop-color="#a9a2cf"/><stop offset=".45" stop-color="#c3c0de"/><stop offset=".48" stop-color="#6f55a3"/><stop offset=".50" stop-color="#3d0f6a"/><stop offset=".51" stop-color="#2d004b"/><stop offset=".533" stop-color="#2d004b"/></linearGradient>
<linearGradient id="e11" gradientUnits="userSpaceOnUse" x1="0" y1="0" x2="0" y2="1000"><stop offset="0" stop-color="#fdcd94"/><stop offset=".04" stop-color="#fdcd94"/><stop offset=".04" stop-color="#d8d9ec"/><stop offset=".20" stop-color="#d8d9ec"/><stop offset=".23" stop-color="#a9a2cf"/><stop offset=".26" stop-color="#a9a2cf"/><stop offset=".28" stop-color="#5f3f96"/><stop offset=".34" stop-color="#4a1a80"/><stop offset=".36" stop-color="#6f55a3"/><stop offset=".40" stop-color="#a9a2cf"/><stop offset=".43" stop-color="#d8d9ec"/><stop offset=".533" stop-color="#d8d9ec"/></linearGradient>
<linearGradient id="e12" gradientUnits="userSpaceOnUse" x1="0" y1="0" x2="0" y2="1000"><stop offset="0" stop-color="#fdcd94"/><stop offset=".065" stop-color="#fdcd94"/><stop offset=".065" stop-color="#d8d9ec"/><stop offset=".20" stop-color="#d8d9ec"/><stop offset=".23" stop-color="#a9a2cf"/><stop offset=".26" stop-color="#8a7eb9"/><stop offset=".30" stop-color="#6f55a3"/><stop offset=".34" stop-color="#4a1a80"/><stop offset=".355" stop-color="#2d004b"/><stop offset=".375" stop-color="#2d004b"/><stop offset=".39" stop-color="#6f55a3"/><stop offset=".42" stop-color="#a9a2cf"/><stop offset=".45" stop-color="#d8d9ec"/><stop offset=".533" stop-color="#d8d9ec"/></linearGradient>
<!-- colorbars -->
<linearGradient id="cb1" x1="0" y1="0" x2="0" y2="1"><stop offset="0" stop-color="#a50026"/><stop offset=".125" stop-color="#d73027"/><stop offset=".25" stop-color="#f46d43"/><stop offset=".375" stop-color="#fdae61"/><stop offset=".497" stop-color="#fee090"/><stop offset=".5" stop-color="#ffffff"/><stop offset=".503" stop-color="#e6f4f8"/><stop offset=".625" stop-color="#abd9e9"/><stop offset=".75" stop-color="#74add1"/><stop offset=".875" stop-color="#4575b4"/><stop offset="1" stop-color="#313695"/></linearGradient>
<linearGradient id="cb2" x1="0" y1="0" x2="0" y2="1"><stop offset="0" stop-color="#7f3b08"/><stop offset=".125" stop-color="#b35806"/><stop offset=".25" stop-color="#e08214"/><stop offset=".375" stop-color="#fdb863"/><stop offset=".497" stop-color="#fee0b6"/><stop offset=".5" stop-color="#ffffff"/><stop offset=".503" stop-color="#e3e3ef"/><stop offset=".625" stop-color="#b2abd2"/><stop offset=".75" stop-color="#8073ac"/><stop offset=".875" stop-color="#542788"/><stop offset="1" stop-color="#2d004b"/></linearGradient>
</defs>

<!-- ===== Panel a ===== -->
<g transform="translate(113,47)">
<rect x="0" y="0" width="42" height="533" fill="url(#a1)"/>
<rect x="41.6" y="0" width="42" height="533" fill="url(#a2)"/>
<rect x="83.2" y="0" width="42" height="533" fill="url(#a3)"/>
<rect x="124.8" y="0" width="42" height="533" fill="url(#a4)"/>
<rect x="166.3" y="0" width="42" height="533" fill="url(#a5)"/>
<rect x="207.9" y="0" width="42" height="533" fill="url(#a6)"/>
<rect x="249.5" y="0" width="42" height="533" fill="url(#a7)"/>
<rect x="291.1" y="0" width="42" height="533" fill="url(#a8)"/>
<rect x="332.7" y="0" width="42" height="533" fill="url(#a9)"/>
<rect x="374.3" y="0" width="42" height="533" fill="url(#a10)"/>
<rect x="415.8" y="0" width="42" height="533" fill="url(#a11)"/>
<rect x="457.4" y="0" width="41.6" height="533" fill="url(#a12)"/>
<g fill="#fff">
<rect x="0" y="209" width="41.6" height="33"/><rect x="41.6" y="211" width="41.6" height="20"/>
<rect x="166.3" y="391" width="41.6" height="19"/>
<rect x="207.9" y="60" width="41.6" height="4"/><rect x="207.9" y="225" width="41.6" height="19"/><rect x="207.9" y="271" width="41.6" height="3"/>
<rect x="249.5" y="47" width="41.6" height="38"/><rect x="249.5" y="190" width="41.6" height="15"/><rect x="249.5" y="212" width="41.6" height="8"/><rect x="249.5" y="245" width="41.6" height="12"/><rect x="249.5" y="345" width="41.6" height="33"/><rect x="249.5" y="410" width="41.6" height="10"/>
<rect x="291.1" y="10" width="41.6" height="42"/><rect x="291.1" y="100" width="41.6" height="36"/><rect x="291.1" y="180" width="41.6" height="30"/><rect x="291.1" y="345" width="41.6" height="10"/>
<rect x="332.7" y="0" width="41.6" height="20"/><rect x="332.7" y="84" width="41.6" height="56"/><rect x="332.7" y="165" width="41.6" height="17"/><rect x="332.7" y="190" width="41.6" height="15"/>
<rect x="374.3" y="40" width="41.6" height="45"/><rect x="374.3" y="185" width="41.6" height="25"/><rect x="374.3" y="518" width="41.6" height="4"/>
<rect x="415.8" y="41" width="41.6" height="39"/><rect x="415.8" y="205" width="41.6" height="5"/><rect x="415.8" y="222" width="41.6" height="16"/><rect x="415.8" y="384" width="41.6" height="24"/>
</g>
</g>
<rect x="113" y="47" width="499" height="557" fill="none" stroke="#000" stroke-width="1.5"/>

<!-- ===== Panel b ===== -->
<g transform="translate(635,47)">
<rect x="0" y="0" width="42" height="533" fill="url(#b1)"/>
<rect x="41.6" y="0" width="42" height="533" fill="url(#b2)"/>
<rect x="83.2" y="0" width="42" height="533" fill="url(#b3)"/>
<rect x="124.8" y="0" width="42" height="533" fill="url(#b4)"/>
<rect x="166.3" y="0" width="42" height="533" fill="url(#b5)"/>
<rect x="207.9" y="0" width="42" height="533" fill="url(#b6)"/>
<rect x="249.5" y="0" width="42" height="533" fill="url(#b7)"/>
<rect x="291.1" y="0" width="42" height="533" fill="url(#b8)"/>
<rect x="332.7" y="0" width="42" height="533" fill="url(#b9)"/>
<rect x="374.3" y="0" width="42" height="533" fill="url(#b10)"/>
<rect x="415.8" y="0" width="42" height="533" fill="url(#b11)"/>
<rect x="457.4" y="0" width="41.6" height="533" fill="url(#b12)"/>
<g fill="#fff"><rect x="41.6" y="20" width="41.6" height="4"/><rect x="41.6" y="30" width="41.6" height="4"/><rect x="83.2" y="30" width="41.6" height="6"/></g>
</g>
<rect x="635" y="47" width="499" height="557" fill="none" stroke="#000" stroke-width="1.5"/>

<!-- ===== Panel d ===== -->
<g transform="translate(113,733)">
<rect x="0" y="0" width="42" height="533" fill="url(#d1)"/>
<rect x="41.6" y="0" width="42" height="533" fill="url(#d2)"/>
<rect x="83.2" y="0" width="42" height="533" fill="url(#d3)"/>
<rect x="124.8" y="0" width="42" height="533" fill="url(#d4)"/>
<rect x="166.3" y="0" width="42" height="533" fill="url(#d5)"/>
<rect x="207.9" y="0" width="42" height="533" fill="url(#d6)"/>
<rect x="249.5" y="0" width="42" height="533" fill="url(#d7)"/>
<rect x="291.1" y="0" width="42" height="533" fill="url(#d8)"/>
<rect x="332.7" y="0" width="42" height="533" fill="url(#d9)"/>
<rect x="374.3" y="0" width="42" height="533" fill="url(#d10)"/>
<rect x="415.8" y="0" width="42" height="533" fill="url(#d11)"/>
<rect x="457.4" y="0" width="41.6" height="533" fill="url(#d12)"/>
<g fill="#fff">
<rect x="0" y="128" width="41.6" height="3"/><rect x="0" y="200" width="41.6" height="10"/><rect x="0" y="503" width="41.6" height="5"/>
<rect x="41.6" y="35" width="41.6" height="2"/><rect x="41.6" y="182" width="41.6" height="4"/><rect x="41.6" y="495" width="41.6" height="5"/>
<rect x="83.2" y="175" width="41.6" height="10"/><rect x="83.2" y="500" width="41.6" height="5"/>
<rect x="124.8" y="47" width="41.6" height="5"/><rect x="124.8" y="70" width="41.6" height="4"/><rect x="124.8" y="361" width="41.6" height="15"/>
<rect x="166.3" y="82" width="41.6" height="8"/><rect x="166.3" y="325" width="41.6" height="7"/>
<rect x="207.9" y="146" width="41.6" height="26"/><rect x="207.9" y="455" width="41.6" height="3"/><rect x="207.9" y="470" width="41.6" height="3"/>
<rect x="249.5" y="125" width="41.6" height="16"/><rect x="249.5" y="285" width="41.6" height="7"/><rect x="249.5" y="463" width="41.6" height="3"/>
<rect x="291.1" y="125" width="41.6" height="20"/><rect x="291.1" y="215" width="41.6" height="10"/><rect x="291.1" y="245" width="41.6" height="10"/><rect x="291.1" y="510" width="41.6" height="3"/><rect x="291.1" y="518" width="41.6" height="2"/>
<rect x="332.7" y="215" width="41.6" height="5"/><rect x="332.7" y="268" width="41.6" height="30"/>
<rect x="374.3" y="125" width="41.6" height="10"/><rect x="374.3" y="225" width="41.6" height="25"/><rect x="374.3" y="270" width="41.6" height="26"/>
<rect x="415.8" y="160" width="41.6" height="5"/><rect x="415.8" y="285" width="41.6" height="15"/><rect x="415.8" y="310" width="41.6" height="12"/><rect x="415.8" y="440" width="41.6" height="30"/>
<rect x="457.4" y="8" width="41.6" height="7"/><rect x="457.4" y="150" width="41.6" height="3"/><rect x="457.4" y="500" width="41.6" height="3"/>
</g>
</g>
<rect x="113" y="733" width="499" height="557" fill="none" stroke="#000" stroke-width="1.5"/>

<!-- ===== Panel e ===== -->
<g transform="translate(635,733)">
<rect x="0" y="0" width="42" height="533" fill="url(#e1)"/>
<rect x="41.6" y="0" width="42" height="533" fill="url(#e2)"/>
<rect x="83.2" y="0" width="42" height="533" fill="url(#e3)"/>
<rect x="124.8" y="0" width="42" height="533" fill="url(#e4)"/>
<rect x="166.3" y="0" width="42" height="533" fill="url(#e5)"/>
<rect x="207.9" y="0" width="42" height="533" fill="url(#e6)"/>
<rect x="249.5" y="0" width="42" height="533" fill="url(#e7)"/>
<rect x="291.1" y="0" width="42" height="533" fill="url(#e8)"/>
<rect x="332.7" y="0" width="42" height="533" fill="url(#e9)"/>
<rect x="374.3" y="0" width="42" height="533" fill="url(#e10)"/>
<rect x="415.8" y="0" width="42" height="533" fill="url(#e11)"/>
<rect x="457.4" y="0" width="41.6" height="533" fill="url(#e12)"/>
<g fill="#fff">
<rect x="0" y="75" width="41.6" height="3"/><rect x="41.6" y="92" width="41.6" height="3"/><rect x="41.6" y="447" width="41.6" height="3"/>
<rect x="83.2" y="31" width="41.6" height="4"/><rect x="83.2" y="80" width="41.6" height="5"/><rect x="83.2" y="486" width="41.6" height="4"/>
<rect x="124.8" y="31" width="41.6" height="4"/><rect x="124.8" y="70" width="41.6" height="5"/><rect x="124.8" y="486" width="41.6" height="4"/>
<rect x="166.3" y="458" width="41.6" height="7"/>
<rect x="249.5" y="414" width="41.6" height="4"/><rect x="291.1" y="421" width="41.6" height="4"/>
<rect x="415.8" y="40" width="41.6" height="3"/><rect x="457.4" y="63" width="41.6" height="3"/>
</g>
</g>
<rect x="635" y="733" width="499" height="557" fill="none" stroke="#000" stroke-width="1.5"/>

<!-- ===== ticks heatmaps ===== -->
<g stroke="#000" stroke-width="1.3">
<path d="M106 84H113M106 124H113M106 164H113M106 204H113M106 244H113M106 284H113M106 324H113M106 364H113M106 404H113M106 444H113M106 484H113M106 524H113M106 564H113M106 604H113"/>
<path d="M628 84H635M628 124H635M628 164H635M628 204H635M628 244H635M628 284H635M628 324H635M628 364H635M628 404H635M628 444H635M628 484H635M628 524H635M628 564H635M628 604H635"/>
<path d="M106 770H113M106 810H113M106 850H113M106 890H113M106 930H113M106 970H113M106 1010H113M106 1050H113M106 1090H113M106 1130H113M106 1170H113M106 1210H113M106 1250H113M106 1290H113"/>
<path d="M628 770H635M628 810H635M628 850H635M628 890H635M628 930H635M628 970H635M628 1010H635M628 1050H635M628 1090H635M628 1130H635M628 1170H635M628 1210H635M628 1250H635M628 1290H635"/>
<path d="M133.8 604V611M217 604V611M300.2 604V611M383.4 604V611M466.6 604V611M549.8 604V611"/>
<path d="M655.8 604V611M739 604V611M822.2 604V611M905.4 604V611M988.6 604V611M1071.8 604V611"/>
<path d="M133.8 1290V1297M217 1290V1297M300.2 1290V1297M383.4 1290V1297M466.6 1290V1297M549.8 1290V1297"/>
<path d="M655.8 1290V1297M739 1290V1297M822.2 1290V1297M905.4 1290V1297M988.6 1290V1297M1071.8 1290V1297"/>
</g>
<g font-size="22" text-anchor="end">
<text x="97" y="92">70</text><text x="97" y="132">60</text><text x="97" y="172">50</text><text x="97" y="212">40</text><text x="97" y="252">30</text><text x="97" y="292">20</text><text x="97" y="332">10</text><text x="97" y="372">0</text><text x="97" y="412">−10</text><text x="97" y="452">−20</text><text x="97" y="492">−30</text><text x="97" y="532">−40</text><text x="97" y="572">−50</text><text x="97" y="612">−60</text>
<text x="97" y="778">70</text><text x="97" y="818">60</text><text x="97" y="858">50</text><text x="97" y="898">40</text><text x="97" y="938">30</text><text x="97" y="978">20</text><text x="97" y="1018">10</text><text x="97" y="1058">0</text><text x="97" y="1098">−10</text><text x="97" y="1138">−20</text><text x="97" y="1178">−30</text><text x="97" y="1218">−40</text><text x="97" y="1258">−50</text><text x="97" y="1298">−60</text>
<text x="1364" y="92">70</text><text x="1364" y="132">60</text><text x="1364" y="172">50</text><text x="1364" y="212">40</text><text x="1364" y="252">30</text><text x="1364" y="292">20</text><text x="1364" y="332">10</text><text x="1364" y="372">0</text><text x="1364" y="412">−10</text><text x="1364" y="452">−20</text><text x="1364" y="492">−30</text><text x="1364" y="532">−40</text><text x="1364" y="572">−50</text><text x="1364" y="612">−60</text>
<text x="1364" y="778">70</text><text x="1364" y="818">60</text><text x="1364" y="858">50</text><text x="1364" y="898">40</text><text x="1364" y="938">30</text><text x="1364" y="978">20</text><text x="1364" y="1018">10</text><text x="1364" y="1058">0</text><text x="1364" y="1098">−10</text><text x="1364" y="1138">−20</text><text x="1364" y="1178">−30</text><text x="1364" y="1218">−40</text><text x="1364" y="1258">−50</text><text x="1364" y="1298">−60</text>
</g>
<g font-size="23.5" text-anchor="middle">
<text x="133.8" y="641">Jan</text><text x="217" y="641">Mar</text><text x="300.2" y="641">May</text><text x="383.4" y="641">Jul</text><text x="466.6" y="641">Sep</text><text x="549.8" y="641">Nov</text>
<text x="655.8" y="641">Jan</text><text x="739" y="641">Mar</text><text x="822.2" y="641">May</text><text x="905.4" y="641">Jul</text><text x="988.6" y="641">Sep</text><text x="1071.8" y="641">Nov</text>
<text x="133.8" y="1327">Jan</text><text x="217" y="1327">Mar</text><text x="300.2" y="1327">May</text><text x="383.4" y="1327">Jul</text><text x="466.6" y="1327">Sep</text><text x="549.8" y="1327">Nov</text>
<text x="655.8" y="1327">Jan</text><text x="739" y="1327">Mar</text><text x="822.2" y="1327">May</text><text x="905.4" y="1327">Jul</text><text x="988.6" y="1327">Sep</text><text x="1071.8" y="1327">Nov</text>
</g>
<g font-size="26" text-anchor="middle">
<text transform="translate(33,325) rotate(-90)">Latitude [°N]</text>
<text transform="translate(33,1012) rotate(-90)">Latitude [°N]</text>
<text transform="translate(1297,325) rotate(-90)">Latitude [°N]</text>
<text transform="translate(1297,1012) rotate(-90)">Latitude [°N]</text>
</g>

<!-- titles -->
<g font-size="24">
<text x="113" y="32" font-weight="bold">(a)</text>
<text x="363" y="32" text-anchor="middle">Historical Δ<tspan font-style="italic">T</tspan><tspan font-size="17" dy="5" font-style="italic">c, min</tspan></text>
<text x="635" y="32" font-weight="bold">(b)</text>
<text x="885" y="32" text-anchor="middle">Historical Δ<tspan font-style="italic">T</tspan><tspan font-size="17" dy="5" font-style="italic">c, max</tspan></text>
<text x="113" y="718" font-weight="bold">(d)</text>
<text x="363" y="718" text-anchor="middle">Future - Historical Δ<tspan font-style="italic">T</tspan><tspan font-size="17" dy="5" font-style="italic">c, min</tspan></text>
<text x="635" y="718" font-weight="bold">(e)</text>
<text x="885" y="718" text-anchor="middle">Future - Historical Δ<tspan font-style="italic">T</tspan><tspan font-size="17" dy="5" font-style="italic">c, max</tspan></text>
<text x="1364" y="32" font-weight="bold">(c)</text>
<text x="1419" y="32">Annual zonal mean</text>
<text x="1364" y="718" font-weight="bold">(f)</text>
<text x="1419" y="718">Annual zonal mean</text>
<text x="1173" y="32" text-anchor="middle">°C</text>
<text x="1173" y="718" text-anchor="middle">°C</text>
</g>

<!-- colorbars -->
<path d="M1159 72 L1173 47 L1187 72 Z" fill="#a50026"/>
<path d="M1159 581 L1173 604 L1187 581 Z" fill="#313695"/>
<rect x="1159" y="72" width="28" height="509" fill="url(#cb1)"/>
<path d="M1159 72 L1173 47 L1187 72 L1187 581 L1173 604 L1159 581 Z" fill="none" stroke="#000" stroke-width="1.2"/>
<path d="M1159 758 L1173 733 L1187 758 Z" fill="#7f3b08"/>
<path d="M1159 1266 L1173 1290 L1187 1266 Z" fill="#2d004b"/>
<rect x="1159" y="758" width="28" height="508" fill="url(#cb2)"/>
<path d="M1159 758 L1173 733 L1187 758 L1187 1266 L1173 1290 L1159 1266 Z" fill="none" stroke="#000" stroke-width="1.2"/>
<g stroke="#000" stroke-width="1.3">
<path d="M1187 72H1194M1187 135.6H1194M1187 199.2H1194M1187 262.9H1194M1187 326.5H1194M1187 390.1H1194M1187 453.8H1194M1187 517.4H1194M1187 581H1194"/>
<path d="M1187 758H1194M1187 821.5H1194M1187 885H1194M1187 948.5H1194M1187 1012H1194M1187 1075.5H1194M1187 1139H1194M1187 1202.5H1194M1187 1266H1194"/>
</g>
<g font-size="22">
<text x="1200" y="80">8</text><text x="1200" y="143.5">6</text><text x="1200" y="207">4</text><text x="1200" y="271">2</text><text x="1200" y="334.5">0</text><text x="1200" y="398">−2</text><text x="1200" y="462">−4</text><text x="1200" y="525.5">−6</text><text x="1200" y="589">−8</text>
<text x="1200" y="766">2.0</text><text x="1200" y="829.5">1.5</text><text x="1200" y="893">1.0</text><text x="1200" y="956.5">0.5</text><text x="1200" y="1020">0.0</text><text x="1200" y="1083.5">−0.5</text><text x="1200" y="1147">−1.0</text><text x="1200" y="1210.5">−1.5</text><text x="1200" y="1274">−2.0</text>
</g>

<!-- ===== Panel c ===== -->
<g fill="none" stroke-linejoin="round" clip-path="url(#clipc)">
<g opacity="0.13" stroke="#40d8d0">
<polyline stroke-width="50" points="1573.6,195.2 1568.2,222 1568.2,232 1581.6,249.6 1595.8,258.4 1593.7,285.2 1602,294 1613.8,305.2 1595.8,325.6 1583.7,343.2 1587.8,365.6 1583.7,388 1587.8,423.2 1593.7,441.2 1585.6,468 1569.5,490.4 1565.5,512.4 1573.6,530 1581.6,548 1595.8,574.4"/>
<polyline stroke-width="140" points="1527.5,40 1543.5,57.2 1537.4,70.4 1529.3,97.2 1533.4,119.6 1541.4,137.6 1557.5,159.2 1569.5,182 1573.6,198"/>
</g>
<g opacity="0.13" stroke="#e0a030">
<polyline stroke-width="62" points="1593.7,164 1569.5,186.4 1521.3,213.2 1517.3,232 1511.9,249.6 1515.4,262.8 1529.3,276 1528,289.6 1493.2,298.4 1463.7,309.6 1466.4,314 1497.2,332 1517.3,347.6 1533.4,356.4 1547.6,365.6 1533.4,383.2 1513.3,401.2 1477.1,423.2 1444.9,438.8 1428.8,452 1440.9,472 1465,485.6 1509.2,503.6 1517.3,516.8 1537.4,530 1553.5,543.6 1577.6,561.2 1595.8,576.8"/>
<polyline stroke-width="110" points="1605.2,40 1618,54.8 1639,68.4 1621.8,88.8 1626.9,126.4 1618,152 1593.7,166"/>
</g>
<polyline stroke="#40c8c8" stroke-width="1.8" points="1527.5,47 1543.5,57.2 1537.4,70.4 1529.3,97.2 1533.4,119.6 1541.4,137.6 1557.5,159.2 1569.5,182 1573.6,195.2 1568.2,222 1568.2,232 1581.6,249.6 1595.8,258.4 1593.7,285.2 1602,294 1613.8,305.2 1595.8,325.6 1583.7,343.2 1587.8,365.6 1583.7,388 1587.8,423.2 1593.7,441.2 1585.6,468 1569.5,490.4 1565.5,512.4 1573.6,530 1581.6,548 1595.8,574.4"/>
<polyline stroke="#daa520" stroke-width="1.8" points="1605.2,47 1618,54.8 1639,68.4 1621.8,88.8 1626.9,126.4 1618,152 1593.7,164 1569.5,186.4 1521.3,213.2 1517.3,232 1511.9,249.6 1515.4,262.8 1529.3,276 1528,289.6 1493.2,298.4 1463.7,309.6 1466.4,314 1497.2,332 1517.3,347.6 1533.4,356.4 1547.6,365.6 1533.4,383.2 1513.3,401.2 1477.1,423.2 1444.9,438.8 1428.8,452 1440.9,472 1465,485.6 1509.2,503.6 1517.3,516.8 1537.4,530 1553.5,543.6 1577.6,561.2 1595.8,576.8"/>
</g>
<line x1="1595" y1="47" x2="1595" y2="578" stroke="#000" stroke-width="3" stroke-dasharray="11,6"/>
<path d="M1378 47V604H1712" fill="none" stroke="#000" stroke-width="1.5"/>
<g stroke="#000" stroke-width="1.3">
<path d="M1371 84H1378M1371 124H1378M1371 164H1378M1371 204H1378M1371 244H1378M1371 284H1378M1371 324H1378M1371 364H1378M1371 404H1378M1371 444H1378M1371 484H1378M1371 524H1378M1371 564H1378M1371 604H1378"/>
<path d="M1461 604V611M1595 604V611"/>
</g>
<g font-size="22" text-anchor="middle"><text x="1461" y="641">−5</text><text x="1595" y="641">0</text></g>
<text x="1545" y="678" font-size="26" text-anchor="middle">Historical Δ<tspan font-style="italic">T</tspan><tspan font-size="18" dy="6" font-style="italic">c</tspan><tspan dy="-6"> (°C)</tspan></text>
<rect x="1393" y="530" width="107" height="61" rx="4" fill="#fff" fill-opacity="0.85" stroke="#d0d0d0" stroke-width="1.2"/>
<line x1="1399" y1="545" x2="1439" y2="545" stroke="#40c8c8" stroke-width="1.8"/>
<line x1="1399" y1="574" x2="1439" y2="574" stroke="#daa520" stroke-width="1.8"/>
<g font-size="20"><text x="1452" y="552">min</text><text x="1452" y="581">max</text></g>

<!-- ===== Panel f ===== -->
<g fill="none" stroke-linejoin="round" clip-path="url(#clipf)">
<g opacity="0.12" stroke="#40d8d0">
<polyline stroke-width="90" points="1536.7,866.8 1533.2,890.8 1533.2,917.2 1528.2,952 1526.7,974 1516.7,996 1526.7,1011.2 1528.2,1039.6 1528.2,1074.4 1524.8,1127.2 1530.2,1153.2 1534,1188.4 1540.2,1227.6 1543.2,1262"/>
<polyline stroke-width="250" points="1560,728 1536.7,744 1530.2,755.2 1536.7,768.4 1546.7,783.6 1548.2,798.8 1560.2,822.8 1560.2,842.8 1540,866"/>
</g>
<g opacity="0.12" stroke="#e0a030">
<polyline stroke-width="145" points="1541.7,728 1526.7,742 1518.2,755.2 1524.8,774.8 1519.8,792.4 1507,816.4 1507,834 1516.7,873.2 1524.8,901.6 1516.7,934.4 1503.2,956.4 1489.7,974 1501.3,996 1483.2,1026.4 1469.7,1046 1489.7,1070 1483.2,1087.6 1496.3,1105.2 1516.7,1131.6 1524.8,1157.6 1524,1184 1527.5,1203.6 1513.2,1232 1511.7,1249.6 1516.7,1264.8"/>
</g>
<polyline stroke="#40c8c8" stroke-width="1.8" points="1563.6,733.2 1536.7,744 1530.2,755.2 1536.7,768.4 1546.7,783.6 1548.2,798.8 1560.2,822.8 1560.2,842.8 1536.7,866.8 1533.2,890.8 1533.2,917.2 1528.2,952 1526.7,974 1516.7,996 1526.7,1011.2 1528.2,1039.6 1528.2,1074.4 1524.8,1127.2 1530.2,1153.2 1534,1188.4 1540.2,1227.6 1543.2,1258.4 1540,1264"/>
<polyline stroke="#daa520" stroke-width="1.8" points="1541.7,733.2 1526.7,742 1518.2,755.2 1524.8,774.8 1519.8,792.4 1507,816.4 1507,834 1516.7,873.2 1524.8,901.6 1516.7,934.4 1503.2,956.4 1489.7,974 1501.3,996 1483.2,1026.4 1469.7,1046 1489.7,1070 1483.2,1087.6 1496.3,1105.2 1516.7,1131.6 1524.8,1157.6 1524,1184 1527.5,1203.6 1513.2,1232 1511.7,1249.6 1516.7,1264.8"/>
</g>
<line x1="1534" y1="733" x2="1534" y2="1266" stroke="#000" stroke-width="2" stroke-dasharray="7,4"/>
<path d="M1378 733V1290H1712" fill="none" stroke="#000" stroke-width="1.5"/>
<g stroke="#000" stroke-width="1.3">
<path d="M1371 770H1378M1371 810H1378M1371 850H1378M1371 890H1378M1371 930H1378M1371 970H1378M1371 1010H1378M1371 1050H1378M1371 1090H1378M1371 1130H1378M1371 1170H1378M1371 1210H1378M1371 1250H1378M1371 1290H1378"/>
<path d="M1438 1290V1297M1534 1290V1297M1631 1290V1297"/>
</g>
<g font-size="22" text-anchor="middle"><text x="1438" y="1327">−2.5</text><text x="1534" y="1327">0.0</text><text x="1631" y="1327">2.5</text></g>
<text x="1545" y="1364" font-size="26" text-anchor="middle">Future - Historical Δ<tspan font-style="italic">T</tspan><tspan font-size="18" dy="6" font-style="italic">c</tspan><tspan dy="-6"> (°C)</tspan></text>
<rect x="1392" y="1217" width="110" height="61" rx="4" fill="#fff" fill-opacity="0.85" stroke="#d0d0d0" stroke-width="1.2"/>
<line x1="1399" y1="1232" x2="1439" y2="1232" stroke="#40c8c8" stroke-width="1.8"/>
<line x1="1399" y1="1261" x2="1439" y2="1261" stroke="#daa520" stroke-width="1.8"/>
<g font-size="20"><text x="1452" y="1239">min</text><text x="1452" y="1268">max</text></g>
</svg>
</body></html>
